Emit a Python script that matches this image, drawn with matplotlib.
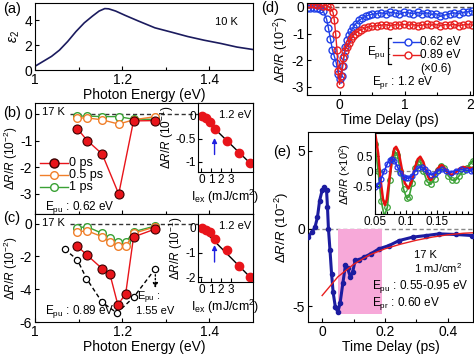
import numpy as np
import matplotlib
matplotlib.use("Agg")
import matplotlib.pyplot as plt

plt.rcParams['font.family'] = ['Liberation Sans', 'DejaVu Sans']
plt.rcParams['mathtext.fontset'] = 'custom'
plt.rcParams['mathtext.rm'] = 'Liberation Sans'
plt.rcParams['mathtext.it'] = 'Liberation Sans:italic'
plt.rcParams['mathtext.bf'] = 'Liberation Sans:bold'
plt.rcParams['axes.unicode_minus'] = False
plt.rcParams['xtick.direction'] = 'in'
plt.rcParams['ytick.direction'] = 'in'

# --- (a) epsilon_2 ---
energie_a = [1.0, 1.019, 1.038, 1.056, 1.075, 1.094, 1.113, 1.132, 1.147, 1.160, 1.169,
             1.185, 1.207, 1.237, 1.275, 1.313, 1.350, 1.388, 1.426, 1.463, 1.50]
eps2 = [0.3, 0.7, 1.1, 1.6, 2.3, 3.1, 3.8, 4.35, 4.75, 4.95, 4.93,
        4.75, 4.4, 3.95, 3.4, 3.05, 2.7, 2.4, 2.14, 1.85, 1.65]

# --- (b) pompe 0.62 eV ---
energie_b = [1.097, 1.12, 1.154, 1.192, 1.226, 1.276]
b_0ps = [-0.55, -1.0, -1.5, -3.0, -0.26, -0.25]
b_05ps = [-0.15, -0.15, -0.22, -0.38, -0.22, -0.1]
b_1ps = [-0.08, -0.08, -0.1, -0.1, -0.2, -0.2]

# --- (c) pompe 0.89 eV ---
energie_c = [1.097, 1.12, 1.154, 1.172, 1.19, 1.208, 1.226, 1.276]
c_0ps = [-1.38, -1.94, -2.75, -3.1, -4.95, -4.28, -0.82, -0.33]
c_05ps = [-0.5, -0.45, -0.8, -1.1, -1.4, -1.4, -0.6, -0.2]
c_1ps = [-0.25, -0.2, -0.6, -0.9, -1.1, -1.15, -0.5, -0.15]
energie_155 = [1.068, 1.097, 1.118, 1.154, 1.188, 1.226, 1.276]
c_155 = [-1.57, -2.2, -3.35, -4.8, -5.45, -4.5, -2.75]

# --- encarts fluence ---
fluence = [0.05, 0.5, 0.85, 1.35, 2.65, 3.9, 5.0]
ins_b = [0, -0.05, -0.13, -0.28, -0.55, -0.8, -1.03]
ins_c = [0, -0.08, -0.15, -0.45, -0.9, -1.54, -1.99]
fit_x = [0, 5.5]
fit_b = [0, -1.13]
fit_c = [0, -2.2]

# --- (d) ---
t_d_bleu = [-0.50, -0.45, -0.40, -0.35, -0.30, -0.25, -0.20, -0.17, -0.14, -0.11, -0.08, -0.05,
            -0.02, 0.01, 0.03, 0.05, 0.07, 0.09, 0.12, 0.15, 0.18, 0.21, 0.25, 0.30, 0.35,
            0.40, 0.45, 0.50, 0.57, 0.64, 0.71, 0.78, 0.85, 0.92, 0.99, 1.06, 1.13, 1.20,
            1.27, 1.34, 1.41, 1.48, 1.55, 1.62, 1.69, 1.76, 1.83, 1.90, 1.97, 2.04]
d_bleu = [-0.03, -0.05, -0.02, -0.05, -0.08, -0.15, -0.45, -0.8, -1.2, -1.6, -1.85, -2.1,
          -2.5, -2.7, -2.6, -2.2, -1.85, -1.5, -1.25, -1.05, -0.9, -0.75, -0.62, -0.5, -0.42,
          -0.35, -0.3, -0.28, -0.25, -0.22, -0.25, -0.2, -0.22, -0.27, -0.2, -0.22, -0.25, -0.2,
          -0.25, -0.22, -0.28, -0.25, -0.35, -0.3, -0.25, -0.22, -0.25, -0.2, -0.18, -0.15]
t_d_rouge = [-0.50, -0.45, -0.40, -0.35, -0.30, -0.25, -0.20, -0.15, -0.10, -0.08, -0.06, -0.04,
             -0.02, 0.00, 0.02, 0.04, 0.06, 0.08, 0.11, 0.14, 0.17, 0.20, 0.24, 0.28, 0.33,
             0.38, 0.44, 0.50, 0.57, 0.64, 0.71, 0.78, 0.85, 0.92, 0.99, 1.06, 1.13, 1.20,
             1.27, 1.34, 1.41, 1.48, 1.55, 1.62, 1.69, 1.76, 1.83, 1.90, 1.97, 2.04]
d_rouge = [0.1, 0.12, 0.1, 0.08, 0.1, 0.05, 0.05, 0.0, -0.2, -0.5, -1.0, -1.6,
           -2.4, -2.9, -2.6, -2.2, -1.9, -1.65, -1.5, -1.35, -1.2, -1.1, -1.0, -0.92, -0.85,
           -0.8, -0.75, -0.72, -0.7, -0.68, -0.66, -0.7, -0.66, -0.68, -0.65, -0.68, -0.66, -0.7,
           -0.68, -0.65, -0.68, -0.65, -0.7, -0.66, -0.68, -0.65, -0.7, -0.67, -0.65, -0.68]

# --- (e) ---
t_e = [-0.045, -0.033, -0.023, -0.015, -0.008, 0.0, 0.007, 0.014, 0.017, 0.020, 0.025, 0.030,
       0.035, 0.042, 0.050, 0.057, 0.066, 0.074, 0.081, 0.090, 0.097, 0.105, 0.118, 0.133,
       0.155, 0.181, 0.213, 0.245, 0.288, 0.330, 0.372, 0.425, 0.478, 0.50]
e_bleu = [-0.55, -0.24, 0.07, 0.72, 1.8, 2.45, 2.65, 2.45, 1.37, 0.0, -1.4, -2.9,
          -4.1, -5.04, -5.36, -4.8, -3.5, -2.37, -2.56, -3.12, -2.8, -2.05, -2.0, -1.84,
          -1.62, -1.3, -1.09, -0.77, -0.55, -0.45, -0.34, -0.38, -0.45, -0.42]
t_fit = [0.0, 0.05, 0.1, 0.15, 0.2, 0.25, 0.3, 0.35, 0.4, 0.45, 0.5]
e_fit = [-4.3, -3.1, -2.3, -1.7, -1.3, -1.0, -0.75, -0.55, -0.4, -0.3, -0.25]
zone_t = [0.05, 0.19]
zone_v = [-5.5, 0.0]

# --- encart (e) ---
t_ins_rouge = [0.050, 0.055, 0.059, 0.063, 0.066, 0.069, 0.073, 0.077, 0.081, 0.084, 0.088,
               0.093, 0.098, 0.104, 0.109, 0.114, 0.119, 0.123, 0.128, 0.133, 0.137, 0.140,
               0.145, 0.150, 0.155, 0.158, 0.163, 0.168, 0.174, 0.180, 0.186, 0.192, 0.200, 0.208]
ins_rouge = [1.3, 0.6, -0.3, -0.95, -1.13, -0.95, -0.3, 0.35, 0.75, 0.81, 0.65,
             0.1, -0.4, -0.58, -0.35, 0.1, 0.4, 0.48, 0.3, -0.05, -0.25, -0.3,
             -0.15, 0.05, 0.18, 0.2, 0.08, -0.07, -0.13, -0.05, 0.08, 0.14, 0.1, 0.1]
t_ins_vert = [0.050, 0.055, 0.060, 0.065, 0.070, 0.074, 0.078, 0.082, 0.086, 0.091, 0.096,
              0.101, 0.105, 0.110, 0.115, 0.119, 0.123, 0.128, 0.134, 0.140, 0.146, 0.152,
              0.157, 0.162, 0.168, 0.174, 0.180, 0.186, 0.192, 0.198, 0.204, 0.208]
ins_vert = [0.9, 0.0, -1.0, -1.5, -1.2, -0.3, 0.4, 0.65, 0.55, 0.0, -0.6,
            -0.9, -0.85, -0.4, 0.1, 0.32, 0.3, 0.0, -0.35, -0.44, -0.25, 0.05,
            0.18, 0.1, -0.15, -0.3, -0.3, -0.15, 0.0, 0.1, 0.25, 0.35]
t_ins_bleu = [0.050, 0.055, 0.060, 0.065, 0.070, 0.074, 0.077, 0.081, 0.086, 0.091, 0.096,
              0.100, 0.104, 0.109, 0.114, 0.119, 0.125, 0.130, 0.135, 0.141, 0.146, 0.152,
              0.158, 0.165, 0.172, 0.180, 0.188, 0.196, 0.204, 0.208]
ins_bleu = [-0.52, -0.45, -0.25, 0.0, 0.25, 0.38, 0.42, 0.35, 0.15, -0.05, -0.18,
            -0.23, -0.24, -0.17, -0.02, 0.1, 0.14, 0.08, -0.04, -0.13, -0.08, 0.02,
            0.06, 0.0, -0.05, 0.02, 0.06, 0.03, 0.02, 0.05]

ROUGE = '#e8141a'
ORANGE = '#f07f2a'
VERT = '#3aa135'
W, H = 474, 355
fig = plt.figure(figsize=(W / 100, H / 100), dpi=100)


def boite(x0, y0, x1, y1):
    # axes placé en pixels (origine en haut à gauche)
    ax = fig.add_axes([x0 / W, 1 - y1 / H, (x1 - x0) / W, (y1 - y0) / H])
    ax.tick_params(which='major', length=3, width=0.8, labelsize=10, pad=2)
    ax.tick_params(which='minor', length=2, width=0.8)
    return ax


def ylab(ax, txt, size=9, pad=0):
    ax.set_ylabel(txt, fontsize=size, labelpad=pad)


DRR = r'$\Delta R/R$'

# (a)
ax_a = boite(35, 3, 253, 70)
ax_a.plot(energie_a, eps2, color='#1b1b5e', lw=1.2)
ax_a.set_xlim(1, 1.5)
ax_a.set_ylim(0, 5.4)
ax_a.set_xticks([1, 1.2, 1.4], ['1', '1.2', '1.4'])
ax_a.set_xticks([1.1, 1.3], minor=True)
ax_a.set_yticks([0, 2, 4])
ax_a.set_xlabel('Photon Energy (eV)', fontsize=10, labelpad=1)
ylab(ax_a, r'$\varepsilon_2$', size=10, pad=2)
ax_a.text(0.88, 0.72, '10 K', transform=ax_a.transAxes, fontsize=8, ha='center', va='center')

# (b) et (c)
ax_b = boite(35, 103, 253, 214)
ax_c = boite(35, 214, 253, 322)
for ax in (ax_b, ax_c):
    ax.set_xlim(1, 1.5)
    ax.set_xticks([1, 1.2, 1.4], ['1', '1.2', '1.4'])
    ax.set_xticks([1.1, 1.3], minor=True)
    ax.plot([1.08, 1.45], [0, 0], ls=(0, (3, 2)), color='#333333', lw=1, zorder=1)
    ax.text(0.03, 0.92, '17 K', transform=ax.transAxes, fontsize=8, va='center')
ax_b.tick_params(labelbottom=False)

ax_b.plot(energie_b, b_1ps, '-o', color=VERT, mfc='white', mec=VERT, ms=5.5, lw=1, mew=1)
ax_b.plot(energie_b, b_05ps, '-o', color=ORANGE, mfc='white', mec=ORANGE, ms=5.5, lw=1, mew=1)
ax_b.plot(energie_b, b_0ps, '-o', color=ROUGE, mfc=ROUGE, mec='#3a0000', ms=6.5, lw=1, mew=0.8)
ax_b.set_ylim(-3.75, 0.41)
ax_b.set_yticks([0, -1, -2, -3])
ylab(ax_b, DRR + ' (10$^{-2}$)', size=8.5, pad=0)
# légende manuelle
for yy, col, fill, lab, ms in [(0.46, ROUGE, ROUGE, '0 ps', 6.5), (0.35, ORANGE, 'white', '0.5 ps', 5.5),
                               (0.24, VERT, 'white', '1 ps', 5.5)]:
    ax_b.plot([0.025, 0.15], [yy, yy], color=col, lw=1, transform=ax_b.transAxes)
    ax_b.plot([0.088], [yy], 'o', mfc=fill, mec='#3a0000' if fill == ROUGE else col, ms=ms,
              transform=ax_b.transAxes)
    ax_b.text(0.155, yy, lab, transform=ax_b.transAxes, fontsize=9, va='center')
ax_b.text(0.045, 0.06, r'E$_{\rm pu}$ : 0.62 eV', transform=ax_b.transAxes, fontsize=8.5, va='center')

ax_c.plot(energie_155, c_155, '--o', color='black', mfc='white', ms=4.5, lw=1, mew=0.9, dashes=(3, 2))
ax_c.plot(energie_c, c_1ps, '-o', color=VERT, mfc='white', mec=VERT, ms=5.5, lw=1, mew=1)
ax_c.plot(energie_c, c_05ps, '-o', color=ORANGE, mfc='white', mec=ORANGE, ms=5.5, lw=1, mew=1)
ax_c.plot(energie_c, c_0ps, '-o', color=ROUGE, mfc=ROUGE, mec='#3a0000', ms=6.5, lw=1, mew=0.8)
ax_c.set_ylim(-6, 0.58)
ax_c.set_yticks([0, -2, -4, -6])
ylab(ax_c, DRR + ' (10$^{-2}$)', size=8.5, pad=0)
ax_c.set_xlabel('Photon Energy (eV)', fontsize=10, labelpad=1)
ax_c.text(0.045, 0.1, r'E$_{\rm pu}$ : 0.89 eV', transform=ax_c.transAxes, fontsize=8.5, va='center')
ax_c.annotate('', xy=(1.276, -4.1), xytext=(1.276, -2.95),
              arrowprops=dict(arrowstyle='-|>', ls=':', color='black', lw=1, mutation_scale=7))
ax_c.text(1.262, -4.5, r'E$_{\rm pu}$ :', fontsize=8, ha='center', va='center')
ax_c.text(1.275, -5.35, '1.55 eV', fontsize=8, ha='center', va='center')

# encarts fluence
for (y0, y1, vals, fit, ylim, ticks, lbls, fl_lo, fl_hi) in [
        (103, 172, ins_b, fit_b, (-1.22, 0.28), [0, -0.5, -1], ['0', '-0.5', '-1'], -0.9, -0.42),
        (214, 282, ins_c, fit_c, (-2.2, 0.57), [0, -1, -2], ['0', '-1', '-2'], -1.5, -0.58)]:
    axi = boite(198, y0, 253, y1)
    axi.plot(fit_x, fit, color='black', lw=1)
    axi.plot(fluence, vals, 'o', color=ROUGE, ms=6, mec=ROUGE)
    axi.set_xlim(-0.35, 5.3)
    axi.set_ylim(*ylim)
    axi.set_xticks([0, 1, 2, 3])
    axi.set_yticks(ticks, lbls)
    axi.tick_params(labelsize=8.5, pad=1.5)
    axi.set_xlabel(r'I$_{\rm ex}$ (mJ/cm$^2$)', fontsize=9, labelpad=1)
    ylab(axi, DRR + ' (10$^{-1}$)', size=8.5, pad=0)
    axi.text(0.97, 0.83, '1.2 eV', transform=axi.transAxes, fontsize=8, ha='right', va='center')
    axi.annotate('', xy=(1.35, fl_hi), xytext=(1.35, fl_lo),
                 arrowprops=dict(arrowstyle='-|>', color='#2020e0', lw=1, mutation_scale=7))

# (d)
ax_d = boite(307, 3, 473, 95)
ax_d.axhline(0, ls=(0, (3, 2)), color='#555555', lw=1)
ax_d.plot(t_d_bleu, d_bleu, '-o', color='#2040e8', mfc='none', ms=5, lw=1, mew=1)
ax_d.plot(t_d_rouge, d_rouge, '-o', color='#e82020', mfc='none', ms=5, lw=1, mew=1)
ax_d.set_xlim(-0.5, 2.05)
ax_d.set_ylim(-3.3, 0.15)
ax_d.set_xticks([0, 1, 2])
ax_d.set_xticks([-0.5, 0.5, 1.5], minor=True)
ax_d.set_yticks([0, -1, -2, -3])
ax_d.set_xlabel('Time Delay (ps)', fontsize=10, labelpad=1)
ylab(ax_d, DRR + ' (10$^{-2}$)', size=9, pad=1)
ax_d.text(0.36, 0.46, r'E$_{\rm pu}$ :', transform=ax_d.transAxes, fontsize=8.5, va='center')
ax_d.plot([0.505, 0.49, 0.49, 0.505], [0.62, 0.62, 0.34, 0.34], color='black', lw=0.9,
          transform=ax_d.transAxes)
for yy, col, lab in [(0.58, '#2040e8', '0.62 eV'), (0.43, '#e82020', '0.89 eV')]:
    ax_d.plot([0.52, 0.68], [yy, yy], color=col, lw=1, transform=ax_d.transAxes)
    ax_d.plot([0.61], [yy], 'o', mfc='white', mec=col, ms=5, mew=1, transform=ax_d.transAxes)
    ax_d.text(0.68, yy, lab, transform=ax_d.transAxes, fontsize=8.5, va='center')
ax_d.text(0.685, 0.28, '(×0.6)', transform=ax_d.transAxes, fontsize=8.5, va='center')
ax_d.text(0.39, 0.14, r'E$_{\rm pr}$ : 1.2 eV', transform=ax_d.transAxes, fontsize=8.5, va='center')

# (e)
ax_e = boite(308, 132, 473, 322)
ax_e.axhline(0, ls=(0, (3, 2)), color='#888888', lw=1, zorder=1)
ax_e.fill_between(zone_t, zone_v[0], zone_v[1], color='#f7a9d9', lw=0, zorder=2)
ax_e.plot(t_e, e_bleu, '-', color='#1c1ca0', lw=2.2, zorder=3)
ax_e.plot(t_e, e_bleu, 'o', color='#1c1ca0', ms=3, zorder=3)
ax_e.plot(t_fit, e_fit, color='#e82020', lw=1, zorder=4)
ax_e.set_xlim(-0.045, 0.48)
ax_e.set_ylim(-6, 6.2)
ax_e.set_xticks([0, 0.2, 0.4], ['0', '0.2', '0.4'])
ax_e.set_xticks([0.1, 0.3], minor=True)
ax_e.set_yticks([5, 0, -5])
ax_e.set_xlabel('Time Delay (ps)', fontsize=10, labelpad=1)
ylab(ax_e, DRR + ' (10$^{-2}$)', size=9.5, pad=1)
ax_e.text(0.64, 0.355, '17 K', transform=ax_e.transAxes, fontsize=8, va='center')
ax_e.text(0.64, 0.285, '1 mJ/cm$^2$', transform=ax_e.transAxes, fontsize=8, va='center')
ax_e.text(0.39, 0.185, r'E$_{\rm pu}$ : 0.55-0.95 eV', transform=ax_e.transAxes, fontsize=8.5, va='center')
ax_e.text(0.39, 0.10, r'E$_{\rm pr}$ : 0.60 eV', transform=ax_e.transAxes, fontsize=8.5, va='center')

ax_ei = boite(375, 133, 473, 214)
ax_ei.axhline(0, ls=(0, (3, 2)), color='#888888', lw=0.9)
ax_ei.plot(t_ins_vert, ins_vert, '-o', color=VERT, mfc='none', ms=4, lw=1.2, mew=0.9)
ax_ei.plot(t_ins_rouge, ins_rouge, '-', color='#e81010', lw=1.8)
ax_ei.plot(t_ins_bleu, ins_bleu, '-o', color='#2030e8', mfc='none', ms=3.5, lw=1.2, mew=0.9)
ax_ei.set_xlim(0.05, 0.208)
ax_ei.set_ylim(-1.43, 1.27)
ax_ei.set_xticks([0.05, 0.1, 0.15], ['0.05', '0.1', '0.15'])
ax_ei.set_xticks(np.arange(0.06, 0.21, 0.01), minor=True)
ax_ei.set_yticks([0.5, 0, -0.5], ['0.5', '0', '-0.5'])
ax_ei.tick_params(labelsize=8.5, pad=1.5)
ylab(ax_ei, DRR + r' ($\times$10$^2$)', size=8, pad=0)

# étiquettes des panneaux
for x, y, lab in [(3, 9, '(a)'), (3, 113, '(b)'), (3, 218, '(c)'), (261, 8, '(d)'), (273, 152, '(e)')]:
    fig.text(x / W, 1 - y / H, lab, fontsize=10.5, va='center')

fig.savefig('out.png', dpi=100)
